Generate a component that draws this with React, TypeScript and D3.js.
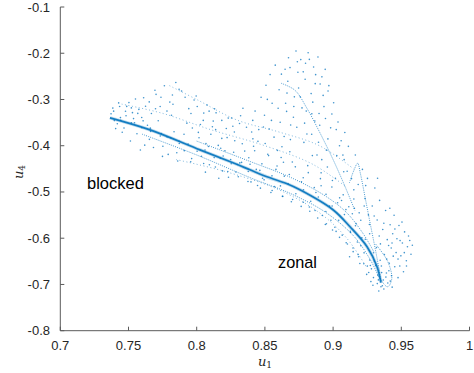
import React from 'react';
import * as d3 from 'd3';

type Pt = [number, number];

// tick labels
const xTicks = [0.7, 0.75, 0.8, 0.85, 0.9, 0.95, 1];
const yTicks = [-0.1, -0.2, -0.3, -0.4, -0.5, -0.6, -0.7, -0.8];

// dense trajectory core
const coreLine: Pt[] = [
  [0.7364, -0.3397], [0.7658, -0.3657], [0.8024, -0.4089], [0.8266, -0.4369],
  [0.8391, -0.4521], [0.8515, -0.4672], [0.8662, -0.4823], [0.8757, -0.4953],
  [0.8999, -0.5384], [0.9124, -0.5752], [0.9249, -0.6184], [0.9322, -0.6616],
  [0.9351, -0.6961],
];

// thinner dotted strands inside the cloud
const lowerStrand: Pt[] = [
  [0.76, -0.375], [0.80, -0.42], [0.84, -0.47], [0.87, -0.505], [0.895, -0.545],
  [0.915, -0.595], [0.927, -0.645], [0.935, -0.69], [0.940, -0.705], [0.943, -0.688],
  [0.940, -0.650], [0.931, -0.612],
];
const upperStrand: Pt[] = [
  [0.80, -0.39], [0.84, -0.435], [0.87, -0.47], [0.895, -0.51], [0.91, -0.545],
  [0.922, -0.59], [0.93, -0.63],
];
const ridge: Pt[] = [
  [0.862, -0.265], [0.872, -0.28], [0.881, -0.32], [0.890, -0.37], [0.900, -0.43],
  [0.909, -0.49], [0.916, -0.54],
];
const spike: Pt[] = [
  [0.912, -0.48], [0.915, -0.455], [0.918, -0.438], [0.920, -0.46], [0.924, -0.52],
  [0.928, -0.58], [0.932, -0.64], [0.935, -0.69],
];
const strandA: Pt[] = [
  [0.745, -0.31], [0.775, -0.33], [0.81, -0.365], [0.85, -0.40], [0.885, -0.44], [0.91, -0.49],
];
const strandB: Pt[] = [
  [0.78, -0.27], [0.80, -0.30], [0.83, -0.345], [0.86, -0.37], [0.89, -0.40], [0.915, -0.45],
];
const strandC: Pt[] = [
  [0.785, -0.43], [0.82, -0.455], [0.86, -0.495], [0.89, -0.545], [0.91, -0.60], [0.925, -0.665],
];

// scattered points, by region
const cloudLeft: Pt[] = [
  [0.7372, -0.3311], [0.7418, -0.3524], [0.7385, -0.3186], [0.7441, -0.3392], [0.7503, -0.3067],
  [0.7467, -0.3618], [0.7529, -0.3285], [0.7396, -0.3457], [0.7562, -0.3741], [0.7487, -0.3149],
  [0.7611, -0.2962], [0.7544, -0.3503], [0.7428, -0.3074], [0.7597, -0.3388], [0.7653, -0.3862],
  [0.7576, -0.3214], [0.7639, -0.3557], [0.7702, -0.2889], [0.7683, -0.4037], [0.7625, -0.3145],
  [0.7718, -0.3461], [0.7454, -0.3709], [0.7668, -0.3303], [0.7741, -0.3735], [0.7514, -0.3898],
  [0.7587, -0.4092], [0.7694, -0.2801], [0.7732, -0.3152], [0.7478, -0.3256], [0.7406, -0.3630],
  [0.7551, -0.2991], [0.7660, -0.3620], [0.7749, -0.4231], [0.7619, -0.3987], [0.7537, -0.3413],
  [0.7391, -0.3252], [0.7435, -0.3151], [0.7482, -0.3352], [0.7521, -0.3182], [0.7568, -0.3301],
  [0.7607, -0.3462], [0.7652, -0.3052], [0.7698, -0.3201], [0.7738, -0.2952],
];
const cloudMidLeft: Pt[] = [
  [0.7763, -0.2702], [0.7815, -0.3341], [0.7791, -0.4188], [0.7847, -0.2634], [0.7872, -0.3905],
  [0.7803, -0.3057], [0.7928, -0.3512], [0.7889, -0.2817], [0.7956, -0.4347], [0.7834, -0.3698],
  [0.7981, -0.3011], [0.8017, -0.3826], [0.7909, -0.4106], [0.8052, -0.3294], [0.7968, -0.3615],
  [0.8093, -0.4412], [0.8035, -0.4229], [0.8121, -0.3467], [0.8076, -0.3118], [0.8158, -0.3993],
  [0.8104, -0.3752], [0.8189, -0.4544], [0.8142, -0.3289], [0.8217, -0.3628], [0.8173, -0.4271],
  [0.8256, -0.3401], [0.8233, -0.4682], [0.8279, -0.3893], [0.8298, -0.4405], [0.8207, -0.4108],
  [0.7861, -0.4331], [0.7996, -0.2923], [0.8064, -0.4571], [0.8131, -0.3203], [0.8265, -0.3578],
  [0.7783, -0.3812], [0.7942, -0.3198], [0.8027, -0.3541], [0.8184, -0.3841], [0.8249, -0.4297],
  [0.7822, -0.2903], [0.8086, -0.4017], [0.8162, -0.4702], [0.7907, -0.3752], [0.8287, -0.4567],
  [0.7782, -0.3251], [0.7826, -0.3102], [0.7871, -0.2781], [0.7915, -0.2951], [0.7958, -0.3302],
  [0.8004, -0.3151], [0.8048, -0.3452], [0.8091, -0.3252], [0.8139, -0.3652], [0.8184, -0.3452],
  [0.8231, -0.3403], [0.8276, -0.3702],
];
const cloudMid: Pt[] = [
  [0.8314, -0.3519], [0.8352, -0.4116], [0.8339, -0.3188], [0.8376, -0.4773], [0.8403, -0.3704],
  [0.8391, -0.4402], [0.8428, -0.3251], [0.8446, -0.4859], [0.8417, -0.4011], [0.8472, -0.2953],
  [0.8489, -0.3596], [0.8463, -0.4534], [0.8508, -0.2691], [0.8521, -0.4183], [0.8497, -0.3342],
  [0.8544, -0.5012], [0.8538, -0.2462], [0.8567, -0.3815], [0.8553, -0.3083], [0.8589, -0.4437],
  [0.8576, -0.2258], [0.8612, -0.3492], [0.8604, -0.2789], [0.8631, -0.5096], [0.8625, -0.4021],
  [0.8648, -0.2347], [0.8659, -0.3258], [0.8642, -0.4658], [0.8673, -0.2098], [0.8687, -0.3867],
  [0.8668, -0.2606], [0.8701, -0.4352], [0.8694, -0.5213], [0.8716, -0.2943], [0.8728, -0.1953],
  [0.8734, -0.3601], [0.8742, -0.2412], [0.8411, -0.3452], [0.8483, -0.4702], [0.8532, -0.3638],
  [0.8597, -0.3191], [0.8619, -0.4254], [0.8662, -0.2862], [0.8709, -0.3384], [0.8329, -0.4361],
  [0.8571, -0.4881], [0.8449, -0.3905], [0.8518, -0.2998], [0.8683, -0.4129], [0.8747, -0.2753],
  [0.8322, -0.3352], [0.8365, -0.3601], [0.8412, -0.3851], [0.8455, -0.3651], [0.8502, -0.3951],
  [0.8548, -0.3452], [0.8592, -0.4101], [0.8641, -0.3802], [0.8689, -0.3551], [0.8621, -0.2452],
  [0.8652, -0.3083], [0.8684, -0.2311], [0.8712, -0.3152], [0.8738, -0.2183],
];
const cloudMidRight: Pt[] = [
  [0.8763, -0.2138], [0.8772, -0.3182], [0.8781, -0.4694], [0.8795, -0.2561], [0.8808, -0.3745],
  [0.8817, -0.1989], [0.8826, -0.5326], [0.8839, -0.2873], [0.8848, -0.4213], [0.8857, -0.2297],
  [0.8866, -0.3465], [0.8874, -0.5012], [0.8889, -0.2082], [0.8893, -0.3926], [0.8905, -0.2664],
  [0.8912, -0.4587], [0.8921, -0.5508], [0.8933, -0.3154], [0.8942, -0.2348], [0.8951, -0.4096],
  [0.8963, -0.2817], [0.8974, -0.5305], [0.8982, -0.3613], [0.8995, -0.4751], [0.9004, -0.3072],
  [0.9013, -0.5762], [0.9027, -0.4215], [0.9036, -0.3486], [0.9048, -0.5127], [0.9059, -0.3891],
  [0.9067, -0.5934], [0.9078, -0.4562], [0.9086, -0.3714], [0.9094, -0.5381], [0.8786, -0.3928],
  [0.8844, -0.3311], [0.8902, -0.3557], [0.8958, -0.4461], [0.9017, -0.4702], [0.9072, -0.4203],
  [0.8798, -0.2218], [0.8869, -0.2658], [0.8927, -0.2912], [0.8984, -0.5612], [0.8814, -0.4431],
  [0.8759, -0.2942], [0.8781, -0.2402], [0.8803, -0.3251], [0.8826, -0.2133], [0.8851, -0.3058],
  [0.8872, -0.2463], [0.8897, -0.3302], [0.8918, -0.2511], [0.8944, -0.3412], [0.8969, -0.2701],
  [0.8991, -0.3314], [0.9023, -0.3651], [0.9047, -0.4002], [0.9081, -0.4301], [0.9103, -0.4553],
  [0.8791, -0.3512], [0.8843, -0.3752], [0.8882, -0.4201], [0.8917, -0.4301], [0.8962, -0.3852],
];
const cloudRight: Pt[] = [
  [0.9112, -0.4013], [0.9128, -0.5874], [0.9135, -0.4712], [0.9147, -0.6291], [0.9156, -0.5351],
  [0.9163, -0.4201], [0.9178, -0.6083], [0.9184, -0.4838], [0.9196, -0.6548], [0.9203, -0.5612],
  [0.9215, -0.4512], [0.9227, -0.6317], [0.9234, -0.5143], [0.9246, -0.6782], [0.9252, -0.4706],
  [0.9268, -0.5905], [0.9273, -0.6591], [0.9287, -0.5304], [0.9292, -0.7018], [0.9306, -0.4915],
  [0.9318, -0.6203], [0.9323, -0.5607], [0.9335, -0.7142], [0.9341, -0.5182], [0.9356, -0.6744],
  [0.9364, -0.5813], [0.9372, -0.7097], [0.9385, -0.5401], [0.9393, -0.6452], [0.9401, -0.6968],
  [0.9418, -0.5708], [0.9426, -0.6213], [0.9433, -0.7058], [0.9447, -0.5502], [0.9452, -0.6617],
  [0.9468, -0.6012], [0.9476, -0.6853], [0.9483, -0.5724], [0.9497, -0.6381], [0.9508, -0.6104],
  [0.9516, -0.6725], [0.9524, -0.5863], [0.9537, -0.6488], [0.9545, -0.6183], [0.9562, -0.6051],
  [0.9571, -0.6347], [0.9168, -0.5682], [0.9211, -0.5989], [0.9259, -0.5496], [0.9302, -0.6492],
  [0.9347, -0.6123], [0.9397, -0.6031], [0.9441, -0.6388], [0.9489, -0.6601], [0.9152, -0.4954],
  [0.9239, -0.4862], [0.9326, -0.4702], [0.9121, -0.6402], [0.9277, -0.6938], [0.9409, -0.6702],
  [0.9416, -0.5352], [0.9453, -0.5802], [0.9491, -0.6052], [0.9522, -0.6312], [0.9553, -0.5952],
  [0.9505, -0.5652], [0.9476, -0.6452], [0.9538, -0.6601], [0.9581, -0.6152], [0.9432, -0.6102],
  [0.9281, -0.6662], [0.9312, -0.6591], [0.9345, -0.6478], [0.9368, -0.6902], [0.9391, -0.6752],
  [0.9412, -0.6543], [0.9428, -0.6812], [0.9351, -0.7051], [0.9332, -0.6901], [0.9376, -0.6352],
];
const coreBand: Pt[] = [
  [0.7443, -0.3448], [0.7521, -0.3502], [0.7598, -0.3611], [0.7662, -0.3692], [0.7733, -0.3788],
  [0.7808, -0.3829], [0.7872, -0.3951], [0.7937, -0.3962], [0.8003, -0.4118], [0.8061, -0.4092],
  [0.8128, -0.4257], [0.8194, -0.4221], [0.8253, -0.4391], [0.8316, -0.4371], [0.8378, -0.4558],
  [0.8437, -0.4512], [0.8494, -0.4738], [0.8552, -0.4651], [0.8614, -0.4869], [0.8671, -0.4822],
  [0.8727, -0.5038], [0.8783, -0.4951], [0.8836, -0.5203], [0.8892, -0.5109], [0.8947, -0.5421],
  [0.8993, -0.5302], [0.9041, -0.5612], [0.9083, -0.5489], [0.9126, -0.5851], [0.9164, -0.5732],
  [0.9203, -0.6162], [0.9236, -0.6021], [0.9268, -0.6472], [0.9297, -0.6313], [0.9328, -0.6803],
  [0.9354, -0.6602], [0.9022, -0.5853], [0.9105, -0.6125], [0.9183, -0.6351], [0.9251, -0.6603],
  [0.8951, -0.5687], [0.8868, -0.5402], [0.8782, -0.5221], [0.8912, -0.4867], [0.9062, -0.5183],
  [0.9141, -0.5471],
  [0.8012, -0.3712], [0.8068, -0.3951], [0.8115, -0.3588], [0.8176, -0.4053], [0.8223, -0.3824],
  [0.8271, -0.4142], [0.8334, -0.3956], [0.8382, -0.4261], [0.8425, -0.4108], [0.8478, -0.4392],
  [0.8527, -0.4213], [0.8581, -0.4512], [0.8636, -0.4358], [0.8679, -0.4623], [0.8723, -0.4457],
  [0.8768, -0.4781], [0.8818, -0.4582], [0.8862, -0.4905], [0.8907, -0.4712], [0.8948, -0.5051],
  [0.8991, -0.4893], [0.9033, -0.5234], [0.9074, -0.5062], [0.9115, -0.5318], [0.9152, -0.5151],
  [0.9191, -0.5452], [0.9228, -0.5303], [0.9266, -0.5702], [0.9301, -0.5521], [0.9338, -0.5952],
  [0.9372, -0.5678], [0.9407, -0.6158], [0.9437, -0.5903], [0.9462, -0.6311],
];
const cloudBelowCore: Pt[] = [
  [0.7752, -0.4012], [0.7854, -0.4151], [0.7963, -0.4278], [0.8051, -0.4383], [0.8137, -0.4461],
  [0.8228, -0.4557], [0.8305, -0.4671], [0.8398, -0.4782], [0.8467, -0.4917], [0.8553, -0.4968],
  [0.8628, -0.5091], [0.8703, -0.5162], [0.8766, -0.5312], [0.8829, -0.5418], [0.8887, -0.5563],
  [0.8943, -0.5702], [0.8996, -0.5821], [0.9047, -0.5981], [0.9096, -0.6097], [0.9146, -0.6211],
  [0.9187, -0.6402], [0.9225, -0.6552], [0.9261, -0.6742], [0.9296, -0.6852], [0.9324, -0.6982],
  [0.9361, -0.7028], [0.9387, -0.6841], [0.9419, -0.6927],
];

const W = 474;
const H = 373;
const BLUE = '#0072BD';

const x = d3.scaleLinear().domain([0.7, 1]).range([60.3, 469.5]);
const y = d3.scaleLinear().domain([-0.8, -0.1]).range([330.7, 7]);
const line = d3.line<Pt>().x(d => x(d[0])).y(d => y(d[1])).curve(d3.curveCatmullRom);

const allDots = [
  ...cloudLeft, ...cloudMidLeft, ...cloudMid, ...cloudMidRight,
  ...cloudRight, ...coreBand, ...cloudBelowCore,
];
const strands = [lowerStrand, upperStrand, ridge, spike, strandA, strandB, strandC];

export default function App() {
  const axisColor = '#5a5a5a';
  const font = "'Liberation Sans', Arial, Helvetica, sans-serif";
  const serif = "'DejaVu Serif', 'Liberation Serif', serif";
  return (
    <svg width={W} height={H} style={{ position: 'absolute', left: 0, top: 0, background: '#fff' }}>
      {/* strands, dotted like the dense scatter */}
      {strands.map((s, i) => (
        <path key={i} d={line(s) || ''} fill="none" stroke={BLUE} strokeWidth={1}
          strokeDasharray={i < 4 ? '1 1.2' : '1 2.5'} strokeOpacity={i < 4 ? 0.7 : 0.5} />
      ))}
      <path d={line(coreLine) || ''} fill="none" stroke={BLUE} strokeWidth={3.4} strokeOpacity={0.25} />
      <path d={line(coreLine) || ''} fill="none" stroke={BLUE} strokeWidth={1.7} strokeOpacity={0.9} />
      {allDots.map((d, i) => (
        <circle key={i} cx={x(d[0])} cy={y(d[1])} r={0.8} fill={BLUE} fillOpacity={0.75} />
      ))}

      {/* axes */}
      <line x1={x(0.7)} x2={x(1)} y1={y(-0.8)} y2={y(-0.8)} stroke={axisColor} strokeWidth={1} />
      <line x1={x(0.7)} x2={x(0.7)} y1={y(-0.8)} y2={y(-0.1)} stroke={axisColor} strokeWidth={1} />
      {xTicks.map(t => (
        <g key={t}>
          <line x1={x(t)} x2={x(t)} y1={y(-0.8)} y2={y(-0.8) - 4} stroke={axisColor} />
          <text x={x(t)} y={350} textAnchor="middle" fontFamily={font} fontSize={13} fill="#262626">{t}</text>
        </g>
      ))}
      {yTicks.map(t => (
        <g key={t}>
          <line x1={x(0.7)} x2={x(0.7) + 4} y1={y(t)} y2={y(t)} stroke={axisColor} />
          <text x={50} y={y(t) + 4.5} textAnchor="end" fontFamily={font} fontSize={13} fill="#262626">{t}</text>
        </g>
      ))}

      {/* axis labels */}
      <text x={265} y={366} textAnchor="middle" fontFamily={serif} fontStyle="italic" fontSize={13} fill="#262626">
        u<tspan fontSize={9} dy={2} fontStyle="normal">1</tspan>
      </text>
      <text transform="translate(23,172) rotate(-90)" textAnchor="middle" fontFamily={serif} fontStyle="italic" fontSize={13} fill="#262626">
        u<tspan fontSize={9} dy={2} fontStyle="normal">4</tspan>
      </text>

      {/* annotations */}
      <text x={87} y={189} fontFamily={font} fontSize={16.5} fill="#000">blocked</text>
      <text x={278} y={268} fontFamily={font} fontSize={16.3} fill="#000">zonal</text>
    </svg>
  );
}
